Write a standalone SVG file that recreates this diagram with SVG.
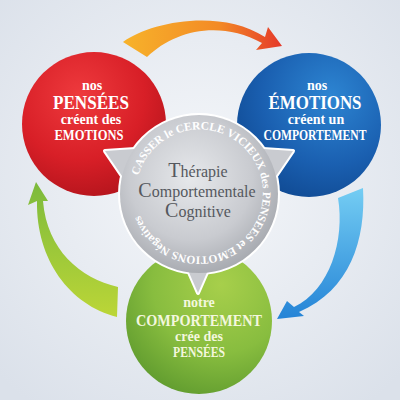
<svg xmlns="http://www.w3.org/2000/svg" width="400" height="400" viewBox="0 0 400 400">
<defs>
<radialGradient id="bg" cx="50%" cy="45%" r="70%">
<stop offset="0" stop-color="#f5f7fa"/>
<stop offset="1" stop-color="#dbe1ea"/>
</radialGradient>
<radialGradient id="gRed" cx="40%" cy="30%" r="75%">
<stop offset="0" stop-color="#ee3a3d"/>
<stop offset="0.6" stop-color="#d81f27"/>
<stop offset="1" stop-color="#b3141c"/>
</radialGradient>
<radialGradient id="gBlue" cx="65%" cy="30%" r="80%">
<stop offset="0" stop-color="#2d85d2"/>
<stop offset="0.6" stop-color="#1a5fb0"/>
<stop offset="1" stop-color="#0f4890"/>
</radialGradient>
<radialGradient id="gGreen" cx="65%" cy="25%" r="85%">
<stop offset="0" stop-color="#a7cf4b"/>
<stop offset="0.55" stop-color="#88bd3f"/>
<stop offset="1" stop-color="#5c982d"/>
</radialGradient>
<radialGradient id="gGrey" cx="45%" cy="40%" r="65%">
<stop offset="0" stop-color="#e6e8eb"/>
<stop offset="0.6" stop-color="#c9cbd0"/>
<stop offset="1" stop-color="#a2a5ab"/>
</radialGradient>
<linearGradient id="aOrange" x1="120" y1="0" x2="285" y2="0" gradientUnits="userSpaceOnUse">
<stop offset="0" stop-color="#f7b42b"/>
<stop offset="0.6" stop-color="#f38a25"/>
<stop offset="1" stop-color="#e4352b"/>
</linearGradient>
<linearGradient id="aBlue" x1="0" y1="188" x2="0" y2="320" gradientUnits="userSpaceOnUse">
<stop offset="0" stop-color="#74cdf3"/>
<stop offset="1" stop-color="#2483d6"/>
</linearGradient>
<linearGradient id="aGreen" x1="0" y1="318" x2="0" y2="182" gradientUnits="userSpaceOnUse">
<stop offset="0" stop-color="#bcd637"/>
<stop offset="1" stop-color="#7cba3c"/>
</linearGradient>
<path id="ring" d="M138.44,175.64 A63,63 0 1 1 260.56,210.36 A63,63 0 1 1 138.44,175.64"/>
</defs>
<style>
.w{fill:#ffffff;font-family:"Liberation Serif","Times New Roman",serif;font-weight:bold;text-anchor:middle}
.g{fill:#f3f7de}
.c{fill:#55585e;font-family:"Liberation Serif","Times New Roman",serif;text-anchor:middle;font-size:16px}
.big{font-size:20px}
.ring{fill:#ffffff;font-family:"Liberation Serif","Times New Roman",serif;font-weight:bold;font-size:11.5px}
</style>
<rect width="400" height="400" fill="url(#bg)"/>

<g id="connectors">
<path d="M123,42 C150,22 220,8 265,37 L268,27 L282,46 L256,50 L262,43 C220,20 175,30 147,57 Z" fill="url(#aOrange)"/>
<path d="M363,188 C366,240 350,290 299,312 L304,316 L277,319 L287,301 L294,307 C330,290 345,240 338,198 Z" fill="url(#aBlue)"/>
<path d="M117,317 C70,305 36,260 37,201 L28,205 L36,182 L48,201 L43,201 C47,250 80,278 118,287 Z" fill="url(#aGreen)"/>
</g>

<g id="node-pensees">
<circle cx="94" cy="124" r="72" fill="url(#gRed)"/>
<text class="w" x="92" y="90" font-size="14">nos</text>
<text class="w" x="91" y="109" font-size="19" textLength="76" lengthAdjust="spacingAndGlyphs">PENSÉES</text>
<text class="w" x="91" y="124" font-size="14">créent des</text>
<text class="w" x="89" y="140" font-size="14" textLength="69" lengthAdjust="spacingAndGlyphs">EMOTIONS</text>
</g>

<g id="node-emotions">
<circle cx="309" cy="125" r="72" fill="url(#gBlue)"/>
<text class="w" x="317" y="90" font-size="14">nos</text>
<text class="w" x="315" y="109" font-size="19" textLength="93" lengthAdjust="spacingAndGlyphs">ÉMOTIONS</text>
<text class="w" x="316" y="124" font-size="14">créent un</text>
<text class="w" x="315" y="140" font-size="14" textLength="103" lengthAdjust="spacingAndGlyphs">COMPORTEMENT</text>
</g>

<g id="node-comportement">
<circle cx="199" cy="321" r="73" fill="url(#gGreen)"/>
<text class="w g" x="199" y="307" font-size="14">notre</text>
<text class="w g" x="199" y="326" font-size="17" textLength="126" lengthAdjust="spacingAndGlyphs">COMPORTEMENT</text>
<text class="w g" x="199" y="341" font-size="14">crée des</text>
<text class="w g" x="199" y="357" font-size="14" textLength="52" lengthAdjust="spacingAndGlyphs">PENSÉES</text>
</g>

<g id="node-tcc">
<g fill="#ffffff" stroke="#ffffff" stroke-width="4" stroke-linejoin="round">
<circle cx="199" cy="194" r="79"/>
<polygon points="105,151 150,148 135,195"/>
<polygon points="293,151 248,148 263,195"/>
<polygon points="198,293 180,252 216,252"/>
</g>
<g fill="#c9cbd0">
<polygon points="105,151 150,148 135,195"/>
<polygon points="293,151 248,148 263,195"/>
<polygon points="198,293 180,252 216,252"/>
</g>
<circle cx="199" cy="194" r="79" fill="url(#gGrey)"/>
<text class="ring"><textPath href="#ring" textLength="358" lengthAdjust="spacingAndGlyphs">CASSER le CERCLE VICIEUX des PENSEES et EMOTIONS Négatives</textPath></text>
<text class="c" x="198" y="177"><tspan class="big">T</tspan>hérapie</text>
<text class="c" x="197" y="197"><tspan class="big">C</tspan>omportementale</text>
<text class="c" x="198" y="217"><tspan class="big">C</tspan>ognitive</text>
</g>
</svg>
